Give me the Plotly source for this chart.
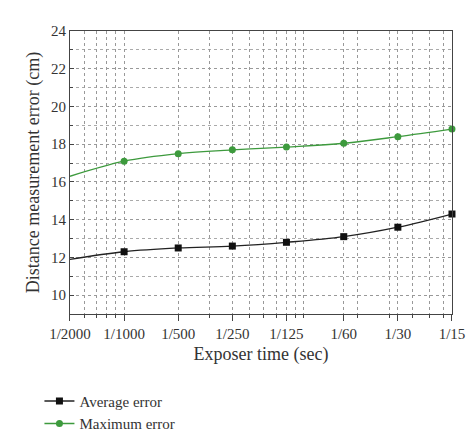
import plotly.graph_objects as go

exposure = [1/2000, 1/1000, 1/500, 1/250, 1/125, 1/60, 1/30, 1/15]
tick_labels = ["1/2000", "1/1000", "1/500", "1/250", "1/125", "1/60", "1/30", "1/15"]
average_error = [11.9, 12.3, 12.5, 12.6, 12.8, 13.1, 13.6, 14.3]
maximum_error = [16.3, 17.1, 17.5, 17.7, 17.85, 18.05, 18.4, 18.8]
# log minor grid positions (decade subdivisions)
minor_vals = [6e-4, 7e-4, 8e-4, 9e-4, 1e-3, 2e-3, 3e-3, 4e-3, 5e-3, 6e-3, 7e-3,
              8e-3, 9e-3, 1e-2, 2e-2, 3e-2, 4e-2, 5e-2, 6e-2]

font = "Liberation Serif"
xrange = [-3.301, -1.176]
fig = go.Figure()
fig.add_trace(go.Scatter(
    x=exposure, y=average_error, name="Average error", mode="lines+markers",
    line=dict(color="#222222", width=1.3, shape="spline"),
    marker=dict(symbol="square", size=7, color="#111111"), cliponaxis=False))
fig.add_trace(go.Scatter(
    x=exposure, y=maximum_error, name="Maximum error", mode="lines+markers",
    line=dict(color="#3d9a3d", width=1.3, shape="spline"),
    marker=dict(symbol="circle", size=7, color="#3d9a3d"), cliponaxis=False))
# invisible trace to activate the minor-grid axis
fig.add_trace(go.Scatter(x=[exposure[0]], y=[average_error[0]], xaxis="x2",
                         mode="markers", marker=dict(opacity=0),
                         showlegend=False, hoverinfo="skip"))

grid = dict(showgrid=True, gridcolor="#999999", griddash="dot", gridwidth=1)
fig.update_layout(
    width=474, height=444,
    margin=dict(l=62, r=30, t=23, b=114),
    plot_bgcolor="white", paper_bgcolor="white",
    font=dict(family=font, size=15, color="#333333"),
    showlegend=True,
    legend=dict(x=-0.08, y=-0.25, xanchor="left", yanchor="top",
                font=dict(size=15), tracegroupgap=2),
    xaxis=dict(
        type="log", range=xrange,
        tickvals=exposure, ticktext=tick_labels,
        title=dict(text="Exposer time (sec)", standoff=6),
        showline=True, linecolor="#444444", mirror=True,
        ticks="outside", ticklen=6, tickcolor="#444444",
        zeroline=False, **grid),
    xaxis2=dict(
        type="log", range=xrange, overlaying="x", tickvals=minor_vals,
        showticklabels=False, ticks="outside", ticklen=3, tickcolor="#444444",
        zeroline=False, **grid),
    yaxis=dict(
        range=[9, 24], dtick=2, tick0=10,
        title=dict(text="Distance measurement error (cm)", standoff=6),
        showline=True, linecolor="#444444", mirror=True,
        ticks="inside", ticklen=4, tickcolor="#444444",
        minor=dict(dtick=1, showgrid=True, gridcolor="#aaaaaa", griddash="dot",
                   ticks="inside", ticklen=3),
        zeroline=False, **grid),
)

fig.write_html("out.html")
